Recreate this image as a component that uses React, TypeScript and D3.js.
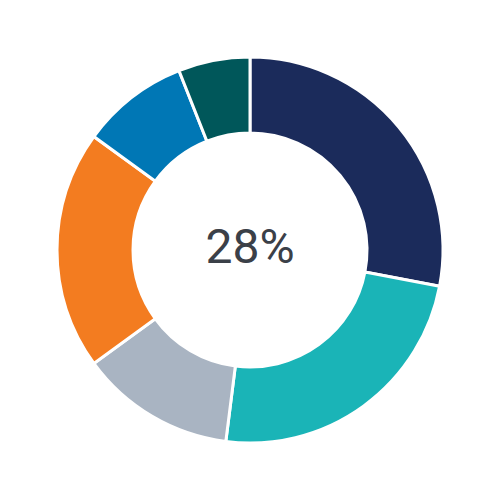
import React from "react";
import * as d3 from "d3";

const labels = ["A", "B", "C", "D", "E", "F"];
const values = [28, 24, 13, 20, 9, 6];
const colors = ["#1b2b5b", "#1ab4b7", "#a9b4c2", "#f37c20", "#0077b5", "#00575a"];
const centerLabel = "28%";

const App: React.FC = () => {
    const width = 500;
    const height = 500;
    const outer = 193;
    const inner = 117;

    const pie = d3.pie<number>().sort(null).value((d) => d);
    const arc = d3.arc<d3.PieArcDatum<number>>().innerRadius(inner).outerRadius(outer);
    const arcs = pie(values);

    return (
        <svg width={width} height={height} style={{ position: "absolute", left: 0, top: 0 }}>
            <g transform={`translate(${width / 2},${height / 2})`}>
                {arcs.map((a, i) => (
                    <path key={labels[i]} d={arc(a) || ""} fill={colors[i]} stroke="#fff" strokeWidth={3} />
                ))}
                <text
                    x={0}
                    y={-4}
                    textAnchor="middle"
                    dominantBaseline="central"
                    fontFamily="Roboto, sans-serif"
                    fontSize={48}
                    fill="#3b4048"
                >
                    {centerLabel}
                </text>
            </g>
        </svg>
    );
};

export default App;
